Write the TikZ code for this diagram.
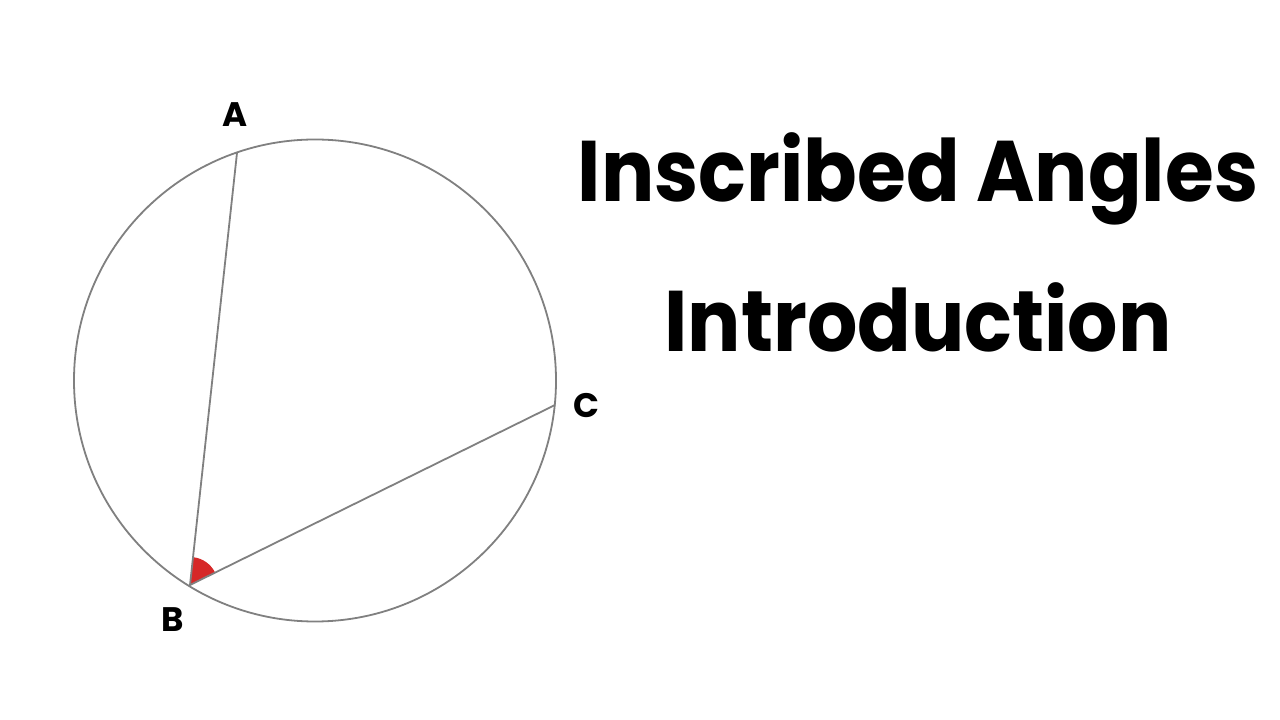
\documentclass[tikz,border=0pt]{standalone}
\usepackage{fontspec}
\setmainfont{Poppins}
\usetikzlibrary{angles}
\definecolor{lineg}{RGB}{128,128,128}
\definecolor{angred}{RGB}{214,40,40}
\begin{document}
\begin{tikzpicture}[x=1pt,y=1pt,
  geo/.style={draw=lineg,line width=1.8pt},
  ptlabel/.style={font=\fontsize{34}{40}\selectfont\bfseries,text=black,inner sep=0pt},
  title/.style={font=\fontsize{86}{96}\selectfont\bfseries,text=black,inner sep=0pt,anchor=base,xscale=0.92}]
\useasboundingbox[fill=white] (0,0) rectangle (1280,720);
\coordinate (O) at (315,339.5);
\coordinate (A) at (237,567);
\coordinate (B) at (190,135);
\coordinate (C) at (555,315);
\pic[fill=angred,draw=none,angle radius=28pt] {angle=C--B--A};
\draw[geo] (O) circle[radius=241];
\draw[geo] (A) -- (B) -- (C);
\node[ptlabel] (la) at (235,605) {A};
\node[ptlabel] (lb) at (173,100) {B};
\node[ptlabel] (lc) at (586,314) {C};
\node[title] (t1) at (918,518) {Inscribed Angles};
\node[title] (t2) at (918,368) {Introduction};
\end{tikzpicture}
\end{document}
